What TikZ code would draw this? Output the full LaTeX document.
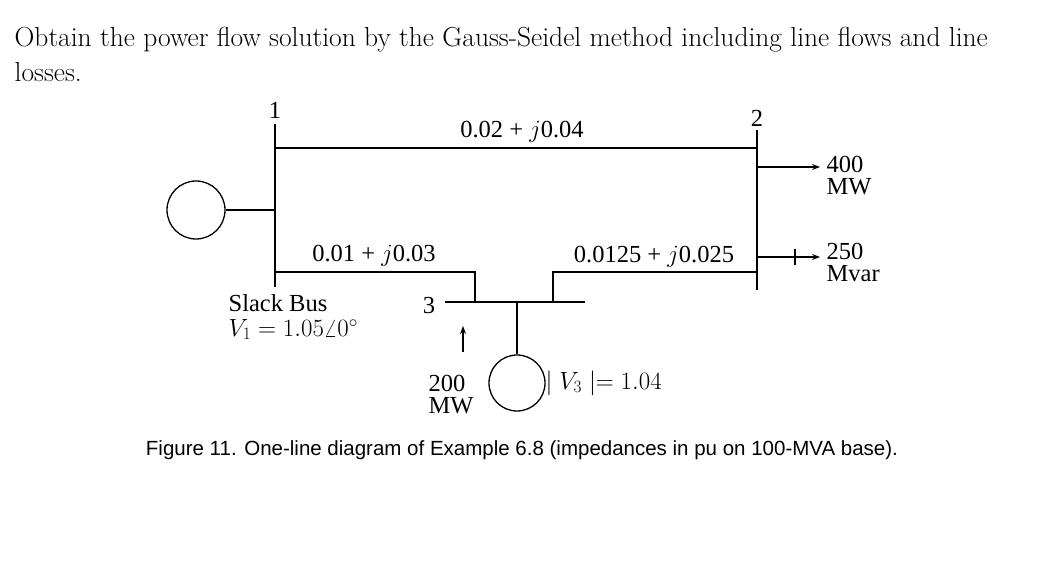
\documentclass[tikz,border=0pt]{standalone}
\usepackage{fontspec}
\newfontfamily\tms{Liberation Serif}
\newfontfamily\hel{Liberation Sans}
\usetikzlibrary{arrows.meta}
\begin{document}
\begin{tikzpicture}[x=1pt,y=-1pt,line width=1.3pt,
  lbl/.style={font=\tms\fontsize{24.5}{24}\selectfont,inner sep=0pt},
  ar/.style={-{Stealth[length=8pt,width=6pt]},line width=1.1pt}]
\useasboundingbox (0,0) rectangle (1061,569);
\node[anchor=west,inner sep=0pt,font=\fontsize{27.5}{30}\selectfont] (t1) at (14,40) {Obtain the power flow solution by the Gauss-Seidel method including line flows and line};
\node[anchor=west,inner sep=0pt,font=\fontsize{27.5}{30}\selectfont] (t2) at (14,72) {losses.};
% buses
\coordinate (b1t) at (275,124); \coordinate (b1b) at (275,287);
\draw (b1t) -- (b1b);
\coordinate (b2t) at (757,130); \coordinate (b2b) at (757,290);
\draw (b2t) -- (b2b);
\coordinate (b3l) at (445,302); \coordinate (b3r) at (585,302);
\draw (b3l) -- (b3r);
% generators
\node[draw,circle,minimum size=58pt,inner sep=0pt] (g1) at (196,210) {};
\draw (g1.east) -- (275,210);
\node[draw,circle,minimum size=56pt,inner sep=0pt] (g3) at (517,383) {};
\draw (g3.north) -- (517,302);
% lines
\draw (275,148) -- (757,148);
\draw (275,272) -- (475,272) -- (475,302);
\draw (553,302) -- (553,272) -- (757,272);
% loads
\coordinate (l1) at (820,167); \coordinate (l2) at (820,257);
\draw[ar] (757,167) -- (l1);
\draw[ar] (757,257) -- (l2);
\draw[line width=1.1pt] (795,249) -- (795,265);
\draw[ar] (463,352) -- (463,326);
% labels
\node[lbl] (n1) at (275,110) {1};
\node[lbl] (n2) at (757,118) {2};
\node[lbl] (n3) at (429,306) {3};
\node[lbl] (z12) at (522,132) {0.02 + $j$0.04};
\node[lbl] (z13) at (374,256) {0.01 + $j$0.03};
\node[lbl] (z23) at (654,257) {0.0125 + $j$0.025};
\node[lbl,anchor=west,align=left] (p2) at (826,176) {400\\[-2pt]MW};
\node[lbl,anchor=west,align=left] (q2) at (826,262) {250\\[-2pt]Mvar};
\node[lbl,anchor=west,align=left] (sb) at (228,317) {Slack Bus\\[1pt]$V_1 = 1.05\angle 0^\circ$};
\node[lbl,anchor=west,align=left] (pg) at (428,395) {200\\[-2pt]MW};
\node[lbl,anchor=west] (v3) at (545,383) {$\mid V_3\mid = 1.04$};
\node[anchor=center,inner sep=0pt,font=\hel\fontsize{20.5}{24}\selectfont] (cap) at (522,450) {Figure 11. One-line diagram of Example 6.8 (impedances in pu on 100-MVA base).};
\end{tikzpicture}
\end{document}
